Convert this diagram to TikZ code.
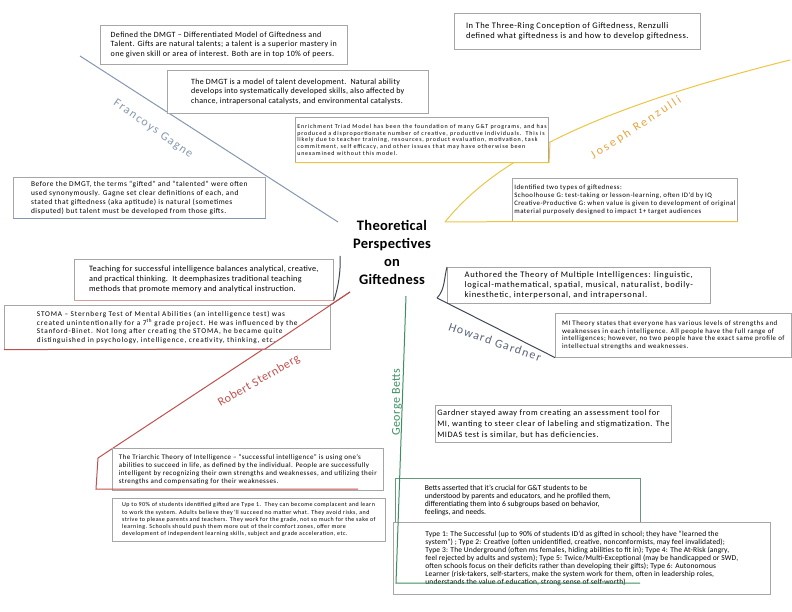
\documentclass[tikz,border=0pt]{standalone}
\usepackage{fontspec}
\setmainfont{Carlito}
\usetikzlibrary{calc}
\definecolor{boxgray}{HTML}{A6A6A6}
\definecolor{gagnec}{HTML}{8497B0}
\definecolor{renzc}{HTML}{EBC444}
\definecolor{renzt}{HTML}{E8A33D}
\definecolor{gardc}{HTML}{3F4756}
\definecolor{gardt}{HTML}{5A6478}
\definecolor{sternc}{HTML}{C0504D}
\definecolor{bettsc}{HTML}{3D8F5F}
% size, skip, letter spacing
\newcommand\notefont[3]{\fontsize{#1}{#2}\selectfont\addfontfeature{LetterSpace=#3}}

\tikzset{
  note/.style={draw=boxgray, line width=.6pt, fill=white, anchor=north west,
    inner xsep=2pt, inner ysep=0pt, align=left},
  branch/.style={line width=1pt},
  who/.style={font=\notefont{12}{14}{#1}},
  who/.default=0
}

\begin{document}
\begin{tikzpicture}[x=1pt,y=-1pt]
  \useasboundingbox (0,0) rectangle (792,612);
  % centre
  \node[font=\bfseries\notefont{14.5}{18}{2}, align=center] (ctr) at (392,252)
    {Theoretical\\Perspectives\\on\\Giftedness};
  \coordinate (c-gag) at (338,222);
  \coordinate (c-ren) at (445,222);
  \coordinate (c-gar) at (437,298);
  \coordinate (c-ste) at (350,292);
  \coordinate (c-bet) at (406,296);
  \coordinate (gag-end) at (80,56);
  \coordinate (ren-end) at (790,60);
  \coordinate (ste-end) at (98,458);
  % main branches
  \draw[branch, gagnec] (c-gag) -- (gag-end);
  \draw[branch, renzc] (c-ren) .. controls (495,160) and (590,110) .. (ren-end);
  \draw[branch, sternc] (c-ste) -- (ste-end);
  % names
  \node[who=12, gagnec, rotate=-35] (gagne) at (153,129) {Francoys Gagne};
  \node[who=20, renzt, rotate=33] (renz) at (636,128) {Joseph Renzulli};
  \node[who=11, gardt, rotate=-19] (gard) at (495,342) {Howard Gardner};
  \node[who=5, sternc, rotate=30] (stern) at (259,381) {Robert Sternberg};
  \node[who=4, bettsc, rotate=90] (betts) at (397,402) {George Betts};
  % Gagne
  \node[note, minimum width=247, minimum height=39, font=\notefont{8}{9.5}{4.5}] (gag1) at (100,25)
    {Defined the DMGT -- Differentiated Model of Giftedness and\\Talent. Gifts are natural talents; a talent is a superior mastery in\\one given skill or area of interest. Both are in top 10\% of peers.};
  \node[note, minimum width=261, minimum height=43, font=\notefont{8}{9.5}{3.5}] (gag2) at (167,70)
    {The DMGT is a model of talent development.\ \ Natural ability\\develops into systematically developed skills, also affected by\\chance, intrapersonal catalysts, and environmental catalysts.};
  \node[note, minimum width=252, minimum height=41, font=\notefont{7.4}{9}{7.5}] (gag3) at (13,177)
    {Before the DMGT, the terms ``gifted'' and ``talented'' were often\\used synonymously. Gagne set clear definitions of each, and\\stated that giftedness (aka aptitude) is natural (sometimes\\disputed) but talent must be developed from those gifts.};
  \draw[branch, gagnec] (gag3.south west) -- (gag3.south east);
  % Renzulli
  \node[note, minimum width=246, minimum height=36, font=\notefont{8.5}{10}{6}] (ren1) at (454,13)
    {In The Three-Ring Conception of Giftedness, Renzulli\\defined what giftedness is and how to develop giftedness.};
  \node[note, minimum width=252, minimum height=45, font=\notefont{6}{6.7}{13.5}] (ren2) at (295,117)
    {Enrichment Triad Model has been the foundation of many G\&T programs, and has\\produced a disproportionate number of creative, productive individuals.\ \ This is\\likely due to teacher training, resources, product evaluation, motivation, task\\commitment, self efficacy, and other issues that may have otherwise been\\unexamined without this model.};
  \draw[branch, renzc] (ren2.south west) -- (ren2.south east) -- (550,143);
  \node[note, minimum width=223, minimum height=43, font=\notefont{6.8}{8}{7.5}] (ren3) at (512,178)
    {Identified two types of giftedness:\\Schoolhouse G: test-taking or lesson-learning, often ID'd by IQ\\Creative-Productive G: when value is given to development of original\\material purposely designed to impact 1+ target audiences};
  \draw[branch, renzc] (c-ren) -- (ren3.south west) -- (ren3.south east);
  % Gardner
  \node[note, minimum width=263, minimum height=36, font=\notefont{8.5}{10}{8}] (gar1) at (447,267)
    {Authored the Theory of Multiple Intelligences: linguistic,\\logical-mathematical, spatial, musical, naturalist, bodily-\\kinesthetic, interpersonal, and intrapersonal.};
  \draw[branch, gardc] (c-gar) .. controls (445,290) and (444,278) .. (gar1.north west);
  \node[note, minimum width=236, minimum height=44, font=\notefont{6.9}{7.5}{8}] (gar2) at (555,313)
    {MI Theory states that everyone has various levels of strengths and\\weaknesses in each intelligence. All people have the full range of\\intelligences; however, no two people have the exact same profile of\\intellectual strengths and weaknesses.};
  \draw[branch, gardc] (c-gar) -- (gar2.south west);
  \node[note, minimum width=235, minimum height=37, font=\notefont{8.3}{11}{7}] (gar3) at (435,405)
    {Gardner stayed away from creating an assessment tool for\\MI, wanting to steer clear of labeling and stigmatization. The\\MIDAS test is similar, but has deficiencies.};
  % Sternberg
  \node[note, minimum width=259, minimum height=41, font=\notefont{8.2}{10}{3.5}] (ste1) at (74,259)
    {Teaching for successful intelligence balances analytical, creative,\\and practical thinking.\ \ It deemphasizes traditional teaching\\methods that promote memory and analytical instruction.};
  \draw[branch, sternc!55] (ste1.south west) -- (ste1.south east);
  \draw[branch, gardc] (ste1.south east) .. controls (338,290) and (341,270) .. (340,256);
  \node[note, minimum width=326, minimum height=44, font=\notefont{7.3}{8.5}{11}] (ste2) at (4,305)
    {STOMA -- Sternberg Test of Mental Abilities (an intelligence test) was\\created unintentionally for a 7\textsuperscript{th} grade project. He was influenced by the\\Stanford-Binet. Not long after creating the STOMA, he became quite\\distinguished in psychology, intelligence, creativity, thinking, etc.};
  \draw[branch, sternc] (ste2.south west) -- (265,349) -- (c-ste);
  \node[note, minimum width=271, minimum height=42, font=\notefont{7}{8}{6}] (ste3) at (112,448)
    {The Triarchic Theory of Intelligence -- ``successful intelligence'' is using one's\\abilities to succeed in life, as defined by the individual. People are successfully\\intelligent by recognizing their own strengths and weaknesses, and utilizing their\\strengths and compensating for their weaknesses.};
  \draw[branch, sternc] (ste-end) -- (96,489) -- (358,489);
  % Betts
  \node[note, minimum width=273, minimum height=43, font=\notefont{6}{7.3}{7.5}] (bet1) at (112,498)
    {Up to 90\% of students identified gifted are Type 1.\ \ They can become complacent and learn\\to work the system. Adults believe they'll succeed no matter what. They avoid risks, and\\strive to please parents and teachers. They work for the grade, not so much for the sake of\\learning. Schools should push them more out of their comfort zones, offer more\\development of independent learning skills, subject and grade acceleration, etc.};
  \node[note, draw=bettsc!60!boxgray, minimum width=245, minimum height=44, font=\notefont{7.6}{8}{0}] (bet2) at (395,478)
    {Betts asserted that it's crucial for G\&T students to be\\understood by parents and educators, and he profiled them,\\differentiating them into 6 subgroups based on behavior,\\feelings, and needs.};
  \node[note, minimum width=377, minimum height=72, font=\notefont{7.5}{8.1}{2}] (bet3) at (393,522)
    {Type 1: The Successful (up to 90\% of students ID'd as gifted in school; they have ``learned the\\system'') ; Type 2: Creative (often unidentified, creative, nonconformists, may feel invalidated);\\Type 3: The Underground (often ms females, hiding abilities to fit in); Type 4: The At-Risk (angry,\\feel rejected by adults and system); Type 5: Twice/Multi-Exceptional (may be handicapped or SWD,\\often schools focus on their deficits rather than developing their gifts); Type 6: Autonomous\\Learner (risk-takers, self-starters, make the system work for them, often in leadership roles,\\understands the value of education, strong sense of self-worth)};
  \draw[branch, bettsc] (c-bet) -- (396,583) -- (640,583);
\end{tikzpicture}
\end{document}
